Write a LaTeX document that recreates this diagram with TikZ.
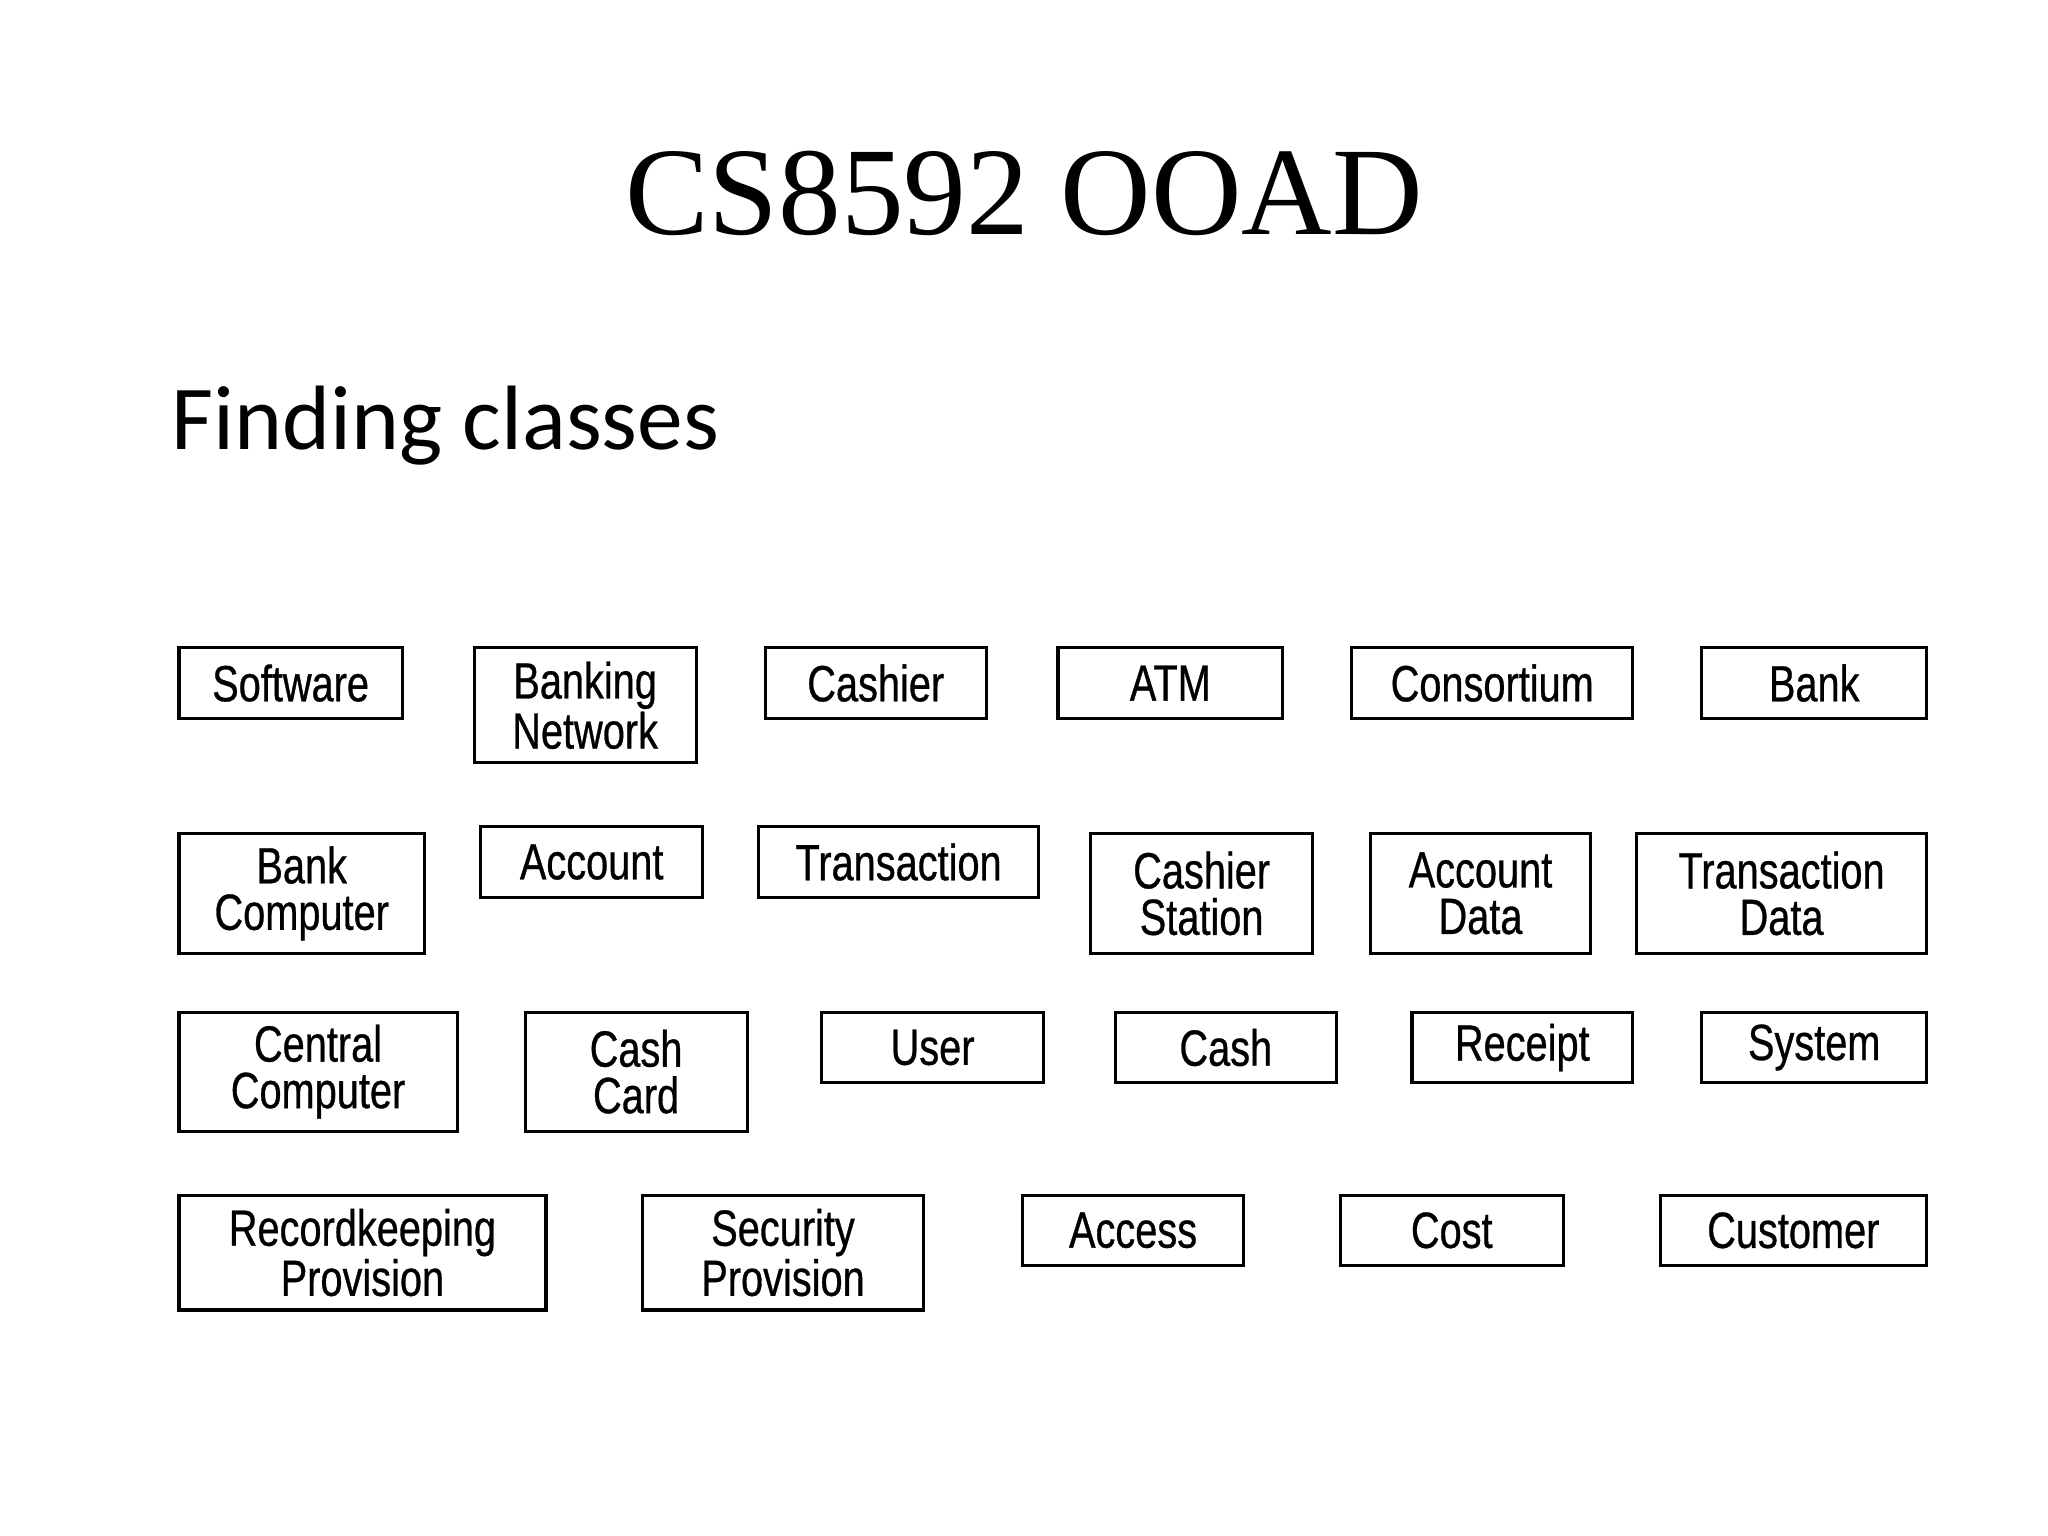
\documentclass[tikz,border=0pt]{standalone}
\usepackage{fontspec}
\setmainfont{Liberation Serif}
\newfontfamily\calib{Carlito}
\newfontfamily\boxf[FakeStretch=0.78,FakeBold=0.6]{Liberation Sans}
\begin{document}
\begin{tikzpicture}[x=0.5pt,y=-0.5pt,
  bx/.style={draw,line width=1.2pt,inner sep=0pt,align=center,font=\boxf\fontsize{19.5}{17.8}\selectfont}]
\useasboundingbox (0,0) rectangle (1568,1176);
\node[font=\fontsize{48}{52}\selectfont] (title) at (784,148) {CS8592 OOAD};
\node[font=\calib\fontsize{35}{40}\selectfont,anchor=west] (sub) at (124,326) {Finding classes};
\newcommand\bxn[7]{\node[bx,minimum width=(#4-#2)*0.5pt,minimum height=(#5-#3)*0.5pt] (#1) at ({(#2+#4)/2},{(#3+#5)/2}) {#6};}
% row 1
\bxn{a1}{137}{496}{308}{550}{Software}{}
\bxn{a2}{363}{496}{533}{584}{Banking\\Network}{}
\bxn{a3}{586}{496}{755}{550}{Cashier}{}
\bxn{a4}{810}{496}{982}{550}{ATM}{}
\bxn{a5}{1035}{496}{1250}{550}{Consortium}{}
\bxn{a6}{1303}{496}{1475}{550}{Bank}{}
% row 2
\bxn{b1}{137}{638}{325}{730}{Bank\\Computer}{}
\bxn{b2}{368}{633}{538}{687}{Account}{}
\bxn{b3}{581}{633}{795}{687}{Transaction}{}
\bxn{b4}{835}{638}{1005}{730}{Cashier\\Station}{}
\bxn{b5}{1049}{638}{1218}{730}{Account\\Data}{}
\bxn{b6}{1253}{638}{1475}{730}{Transaction\\Data}{}
% row 3
\bxn{c1}{137}{775}{350}{866}{Central\\Computer}{}
\bxn{c2}{402}{775}{572}{866}{Cash\\Card}{}
\bxn{c3}{629}{775}{799}{829}{User}{}
\bxn{c4}{854}{775}{1023}{829}{Cash}{}
\bxn{c5}{1081}{775}{1250}{829}{Receipt}{}
\bxn{c6}{1303}{775}{1475}{829}{System}{}
% row 4
\bxn{d1}{137}{915}{418}{1003}{Recordkeeping\\Provision}{}
\bxn{d2}{492}{915}{707}{1003}{Security\\Provision}{}
\bxn{d3}{783}{915}{952}{969}{Access}{}
\bxn{d4}{1026}{915}{1197}{969}{Cost}{}
\bxn{d5}{1271}{915}{1475}{969}{Customer}{}
\end{tikzpicture}
\end{document}
